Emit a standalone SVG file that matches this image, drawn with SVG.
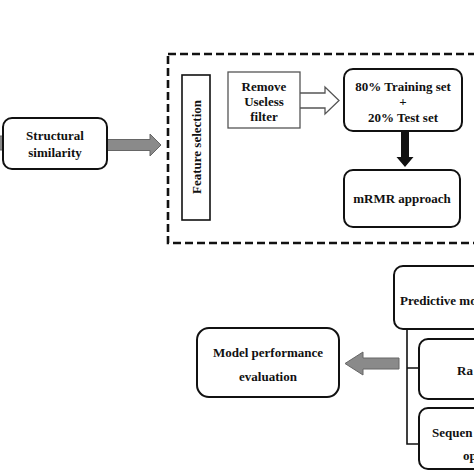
<svg xmlns="http://www.w3.org/2000/svg" width="474" height="474" viewBox="0 0 474 474">
<style>
text{font-family:"Liberation Serif","Times New Roman",serif;font-weight:bold;font-size:13px;fill:#111;text-anchor:middle}
.rb{fill:#fff;stroke:#111;stroke-width:2}
.ga{fill:#8a8a8a;stroke:#666;stroke-width:1}
</style>
<rect width="474" height="474" fill="#fff"/>
<g id="connectors">
<rect x="-4" y="136" width="7" height="14" class="ga"/>
<path class="ga" d="M107,139.5 H150 V134 L161,145 L150,156 V150.5 H107 Z"/>
<path d="M300,93 H325 V87 L339,100.5 L325,114 V108 H300" fill="#fff" stroke="#555" stroke-width="1.3"/>
<path d="M401,131 H409 V157 H413.5 L405,167 L396.5,157 H401 Z" fill="#111"/>
<path class="ga" d="M399,358 H363 V352 L345,363.5 L363,375 V369 H399 Z"/>
<path d="M407,329 V444 H419 M407,368 H419" fill="none" stroke="#111" stroke-width="1.6"/>
</g>
<g id="structural">
<rect class="rb" x="3" y="118" width="104" height="51" rx="9"/>
<text x="55" y="140">Structural</text>
<text x="55" y="157">similarity</text>
</g>
<g id="dashedGroup">
<rect x="168" y="54" width="320" height="189" fill="none" stroke="#111" stroke-width="2.6" stroke-dasharray="8,4"/>
</g>
<g id="featureSelection">
<rect x="182" y="75" width="28" height="145" fill="#fff" stroke="#111" stroke-width="1.6"/>
<text transform="translate(200.5,147) rotate(-90)">Feature selection</text>
</g>
<g id="removeFilter">
<rect x="228" y="72" width="72" height="56" fill="#fff" stroke="#555" stroke-width="1.3"/>
<text x="264" y="91">Remove</text>
<text x="264" y="106">Useless</text>
<text x="264" y="121">filter</text>
</g>
<g id="split">
<rect class="rb" x="344" y="69" width="118" height="62" rx="9" stroke-width="1.6"/>
<text x="403" y="91">80% Training set</text>
<text x="403" y="106">+</text>
<text x="403" y="122">20% Test set</text>
</g>
<g id="mrmr">
<rect class="rb" x="344" y="170" width="116" height="57" rx="9" stroke-width="1.6"/>
<text x="402" y="203">mRMR approach</text>
</g>
<g id="predictive">
<rect class="rb" x="394" y="266" width="100" height="63" rx="9"/>
<text x="400" y="305" style="text-anchor:start">Predictive mo</text>
</g>
<g id="random">
<rect class="rb" x="419" y="339" width="80" height="60" rx="9"/>
<text x="457" y="375" style="text-anchor:start">Ra</text>
</g>
<g id="sequential">
<rect class="rb" x="419" y="408" width="80" height="61" rx="9" stroke-width="2.4"/>
<text x="432" y="437" style="text-anchor:start">Sequen</text>
<text x="463" y="460" style="text-anchor:start">op</text>
</g>
<g id="evaluation">
<rect class="rb" x="197" y="328" width="142" height="69" rx="12"/>
<text x="268" y="357">Model performance</text>
<text x="268" y="381">evaluation</text>
</g>
</svg>
